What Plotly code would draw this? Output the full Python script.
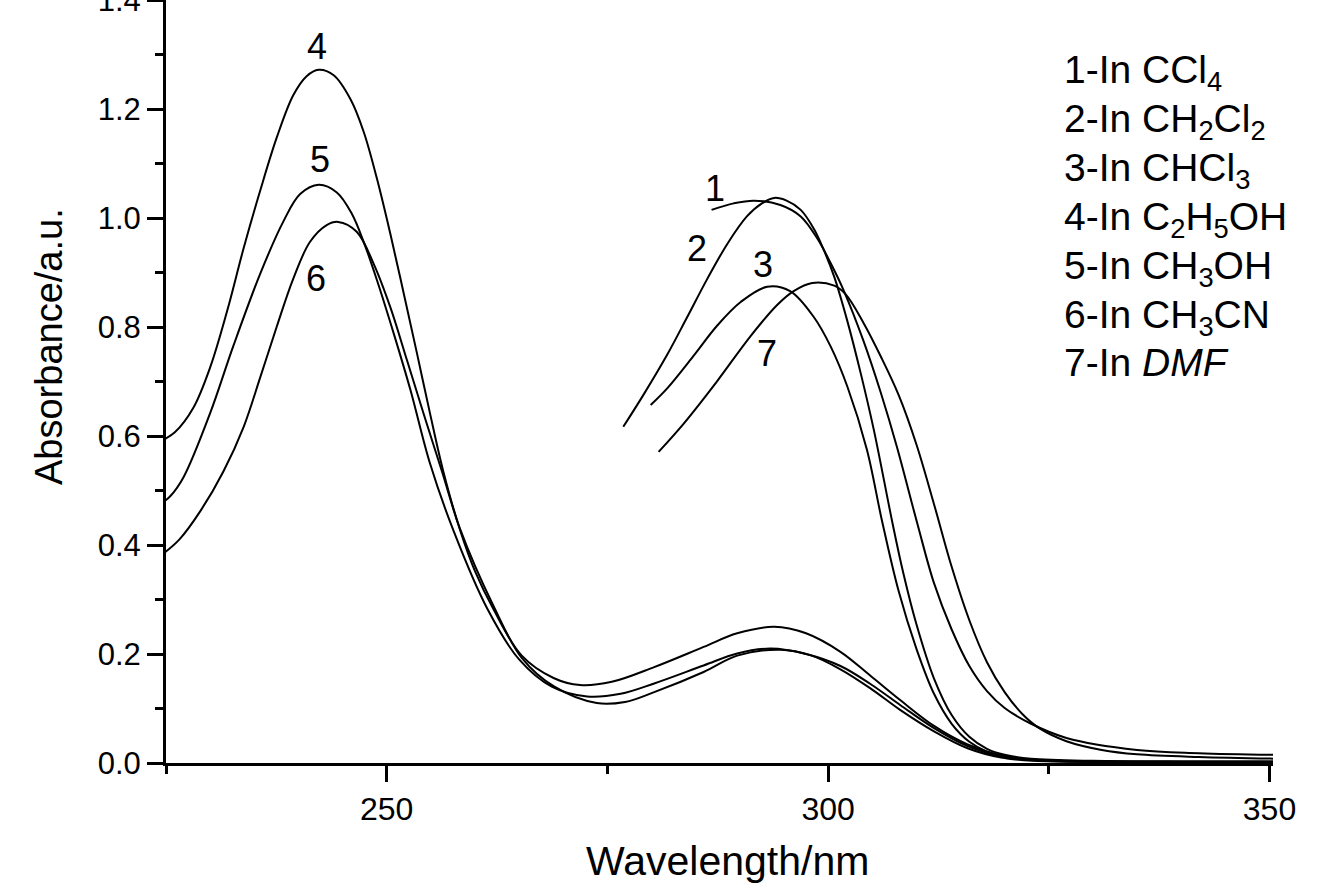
import plotly.graph_objects as go

# ---------------- data ----------------
wl_1 = [286.8, 289.3, 291.6, 294.6, 296.9, 298.8, 300.3, 301.8, 304.0, 306.0, 307.8, 310.1, 312.0, 314.0,
        316.0, 318.0, 320.0, 323.0, 327.0, 335.0, 342.0, 350.4]
ab_1 = [1.015, 1.027, 1.032, 1.024, 1.003, 0.962, 0.917, 0.866, 0.775, 0.678, 0.580, 0.440, 0.330, 0.245,
        0.178, 0.132, 0.101, 0.072, 0.046, 0.024, 0.018, 0.015]

wl_2 = [276.8, 279.1, 281.8, 284.0, 286.3, 288.6, 290.8, 292.5, 293.9, 295.3, 296.9, 298.4, 299.5, 300.7,
        302.2, 303.7, 305.2, 307.3, 308.5, 310.0, 312.0, 314.0, 316.0, 318.0, 320.0, 323.0, 330.0, 340.0, 350.4]
ab_2 = [0.617, 0.676, 0.750, 0.817, 0.888, 0.953, 1.003, 1.027, 1.037, 1.032, 1.015, 0.980, 0.942, 0.892,
        0.810, 0.715, 0.610, 0.440, 0.350, 0.255, 0.155, 0.088, 0.048, 0.026, 0.015, 0.008, 0.004, 0.003, 0.003]

wl_3 = [279.9, 281.8, 284.8, 287.4, 290.1, 293.1, 295.7, 298.4, 300.3, 302.2, 304.4, 306.1, 308.0, 310.0,
        312.0, 314.0, 316.0, 318.0, 320.0, 323.0, 330.0, 350.4]
ab_3 = [0.657, 0.688, 0.748, 0.802, 0.846, 0.874, 0.866, 0.818, 0.764, 0.690, 0.575, 0.445, 0.315, 0.210,
        0.127, 0.072, 0.039, 0.021, 0.012, 0.006, 0.003, 0.002]

wl_4 = [224.1, 226.0, 228.1, 230.0, 231.9, 233.8, 235.7, 237.55, 239.4, 240.9, 242.3, 244.0, 245.9, 247.4,
        248.9, 250.4, 251.9, 253.4, 254.9, 256.4, 258.3, 260.0, 262.1, 265.3, 268.9, 271.9, 275.5, 280.3,
        285.9, 289.7, 293.9, 297.5, 301.4, 304.8, 308.2, 312.0, 315.8, 319.6, 323.3, 330.0, 340.0, 350.4]
ab_4 = [0.588, 0.607, 0.652, 0.726, 0.828, 0.945, 1.052, 1.148, 1.225, 1.260, 1.272, 1.262, 1.218, 1.158,
        1.072, 0.972, 0.864, 0.754, 0.642, 0.536, 0.428, 0.352, 0.282, 0.197, 0.156, 0.143, 0.149, 0.176,
        0.213, 0.238, 0.250, 0.238, 0.204, 0.160, 0.115, 0.068, 0.034, 0.014, 0.006, 0.003, 0.002, 0.002]

wl_5 = [224.1, 225.5, 227.0, 230.0, 232.6, 235.7, 238.3, 240.2, 242.3, 244.35, 246.05, 247.4, 248.9, 250.8,
        252.7, 254.9, 257.6, 261.4, 265.0, 268.7, 272.7, 276.5, 280.3, 285.9, 289.7, 293.5, 297.5, 301.4,
        304.8, 308.2, 312.0, 315.8, 319.6, 323.3, 330.0, 350.4]
ab_5 = [0.472, 0.490, 0.525, 0.642, 0.764, 0.899, 0.994, 1.044, 1.061, 1.047, 1.008, 0.956, 0.886, 0.788,
        0.684, 0.550, 0.425, 0.283, 0.190, 0.140, 0.122, 0.127, 0.146, 0.179, 0.201, 0.210, 0.200, 0.178,
        0.145, 0.106, 0.064, 0.031, 0.012, 0.005, 0.002, 0.001]

wl_6 = [224.1, 226.5, 229.0, 231.5, 233.8, 235.7, 237.55, 239.4, 241.3, 243.2, 244.5, 246.6, 248.5, 250.4,
        252.3, 254.2, 256.3, 258.3, 262.1, 265.3, 269.0, 273.8, 277.0, 280.3, 285.9, 289.7, 294.6, 298.0,
        301.4, 304.8, 308.2, 312.0, 315.8, 319.6, 323.3, 330.0, 350.4]
ab_6 = [0.377, 0.410, 0.465, 0.535, 0.617, 0.709, 0.801, 0.888, 0.956, 0.987, 0.993, 0.975, 0.917, 0.837,
        0.739, 0.640, 0.533, 0.430, 0.288, 0.193, 0.140, 0.110, 0.112, 0.130, 0.167, 0.197, 0.208, 0.198,
        0.172, 0.137, 0.097, 0.058, 0.027, 0.010, 0.004, 0.002, 0.001]

wl_7 = [280.8, 283.6, 287.4, 291.2, 294.2, 296.1, 298.2, 300.7, 302.0, 304.0, 306.0, 308.0, 310.0, 312.0,
        314.0, 316.0, 318.0, 320.0, 322.0, 324.0, 327.0, 331.0, 335.0, 342.0, 350.4]
ab_7 = [0.571, 0.622, 0.700, 0.783, 0.840, 0.866, 0.881, 0.876, 0.860, 0.808, 0.745, 0.675, 0.585, 0.475,
        0.360, 0.262, 0.185, 0.130, 0.090, 0.063, 0.040, 0.024, 0.016, 0.011, 0.008]

curve_ids = ["1", "2", "3", "4", "5", "6", "7"]
legend_labels = [
    "1-In CCl<sub>4</sub>",
    "2-In CH<sub>2</sub>Cl<sub>2</sub>",
    "3-In CHCl<sub>3</sub>",
    "4-In C<sub>2</sub>H<sub>5</sub>OH",
    "5-In CH<sub>3</sub>OH",
    "6-In CH<sub>3</sub>CN",
    "7-In <i>DMF</i>",
]
# curve number label anchor positions (wavelength, absorbance)
label_wl = [287.2, 285.2, 292.6, 242.1, 242.5, 242.0, 293.1]
label_ab = [1.055, 0.945, 0.914, 1.314, 1.107, 0.890, 0.752]

x_title = "Wavelength/nm"
y_title = "Absorbance/a.u."

# ---------------- figure ----------------
FONT = "Liberation Sans, Arial, sans-serif"
W, H = 1322, 889
ML, MR, MT, MB = 166, 49, 0, 126
PW, PH = W - ML - MR, H - MT - MB


def px2paper_x(px):
    return (px - ML) / PW


def px2paper_y(py):
    return (MT + PH - py) / PH


fig = go.Figure()
series = [(wl_1, ab_1), (wl_2, ab_2), (wl_3, ab_3), (wl_4, ab_4), (wl_5, ab_5), (wl_6, ab_6), (wl_7, ab_7)]
for cid, (xs, ys) in zip(curve_ids, series):
    fig.add_trace(go.Scatter(x=xs, y=ys, mode="lines", name=cid,
                             line=dict(color="black", width=2, shape="spline", smoothing=1.0),
                             showlegend=False, hoverinfo="skip"))

annotations = []
for cid, lx, ly in zip(curve_ids, label_wl, label_ab):
    annotations.append(dict(x=lx, y=ly, xref="x", yref="y", text=cid, showarrow=False,
                            xanchor="center", yanchor="middle",
                            font=dict(family=FONT, size=36, color="black")))

for i, txt in enumerate(legend_labels):
    annotations.append(dict(x=px2paper_x(1062), y=px2paper_y(46 + 48.9 * i), xref="paper", yref="paper",
                            text=txt, showarrow=False, xanchor="left", yanchor="top",
                            font=dict(family=FONT, size=39, color="black")))

annotations.append(dict(x=px2paper_x(727), y=px2paper_y(861), xref="paper", yref="paper",
                        text=x_title, showarrow=False, xanchor="center", yanchor="middle",
                        font=dict(family=FONT, size=41, color="black")))
annotations.append(dict(x=px2paper_x(49), y=px2paper_y(347), xref="paper", yref="paper",
                        text=y_title, showarrow=False, xanchor="center", yanchor="middle", textangle=-90,
                        font=dict(family=FONT, size=38, color="black")))

fig.update_layout(
    width=W, height=H,
    margin=dict(l=ML, r=MR, t=MT, b=MB, autoexpand=False),
    paper_bgcolor="white", plot_bgcolor="white",
    annotations=annotations,
    xaxis=dict(range=[225, 350.4], tick0=200, dtick=50, showgrid=False, zeroline=False, automargin=False,
               showline=True, linecolor="black", linewidth=3,
               ticks="outside", ticklen=16, tickwidth=2.5, tickcolor="black",
               tickfont=dict(family=FONT, size=32, color="black"),
               minor=dict(dtick=25, tick0=200, ticks="outside", ticklen=8, tickwidth=2.5, tickcolor="black",
                          showgrid=False)),
    yaxis=dict(range=[0, 1.4002], tick0=0, dtick=0.2, tickformat=".1f", showgrid=False, zeroline=False,
               automargin=False, ticklabeloverflow="allow",
               showline=True, linecolor="black", linewidth=3,
               ticks="outside", ticklen=16, tickwidth=2.5, tickcolor="black",
               tickfont=dict(family=FONT, size=31, color="black"),
               minor=dict(dtick=0.1, tick0=0, ticks="outside", ticklen=8, tickwidth=2.5, tickcolor="black",
                          showgrid=False)),
)

fig.write_html("out.html")
